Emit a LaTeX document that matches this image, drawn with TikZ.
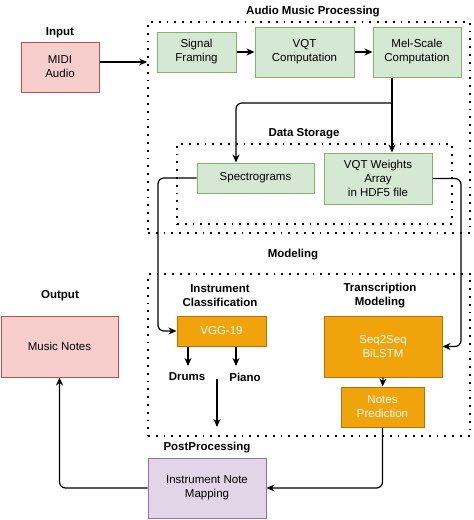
\documentclass[tikz,border=0pt]{standalone}
\usepackage{fontspec}
\setmainfont{Liberation Sans}
\usetikzlibrary{arrows.meta,calc}
\definecolor{gfill}{HTML}{D5E8D4}\definecolor{gline}{HTML}{82B366}
\definecolor{pfill}{HTML}{F8CECC}\definecolor{pline}{HTML}{B85450}
\definecolor{ofill}{HTML}{F0A30A}\definecolor{oline}{HTML}{BD7000}
\definecolor{vfill}{HTML}{E1D5E7}\definecolor{vline}{HTML}{9673A6}
\begin{document}
\begin{tikzpicture}[x=1pt,y=-1pt,
  every node/.style={font=\fontsize{11.5}{14}\selectfont, align=center, inner sep=0pt},
  box/.style={draw, line width=1pt, minimum width=#1},
  gbox/.style={box=0, fill=gfill, draw=gline},
  pbox/.style={box=0, fill=pfill, draw=pline},
  obox/.style={box=0, fill=ofill, draw=oline, text=white},
  vbox/.style={box=0, fill=vfill, draw=vline},
  group/.style={draw, line width=1.8pt, dash pattern=on 1.8pt off 6pt},
  lbl/.style={font=\fontsize{11.5}{14}\selectfont\bfseries},
  arr/.style={-{Stealth[length=8pt,width=7pt,inset=2.5pt]}, line width=1.2pt},
  rc/.style={rounded corners=6pt}]
\useasboundingbox (0,0) rectangle (474,520);
% groups
\node[group, minimum width=322pt, minimum height=211pt] (amp) at (309,127.5) {};
\node[group, minimum width=275pt, minimum height=80pt] (ds) at (314.5,184) {};
\node[group, minimum width=322pt, minimum height=162pt] (mod) at (309,355) {};
% labels
\node[lbl] (lamp) at (313,12) {Audio Music Processing};
\node[lbl] (lin) at (60,33) {Input};
\node[lbl] (lds) at (304,134) {Data Storage};
\node[lbl] (lmod) at (293,255) {Modeling};
\node[lbl] (lout) at (60,296) {Output};
\node[lbl] (lic) at (220,296) {Instrument\\Classification};
\node[lbl] (ltm) at (380,296) {Transcription\\Modeling};
\node[lbl] (drums) at (187,377) {Drums};
\node[lbl] (piano) at (245,377) {Piano};
\node[lbl] (lpp) at (207,448) {PostProcessing};
% boxes
\node[pbox, minimum width=78pt, minimum height=50pt] (midi) at (60,67) {MIDI\\Audio};
\node[gbox, minimum width=79pt, minimum height=40pt] (sf) at (196.5,52) {Signal\\Framing};
\node[gbox, minimum width=99pt, minimum height=50pt] (vqt) at (304.5,52) {VQT\\Computation};
\node[gbox, minimum width=88pt, minimum height=50pt] (mel) at (417,52) {Mel-Scale\\Computation};
\node[gbox, minimum width=117pt, minimum height=30pt] (spec) at (255.5,178) {Spectrograms};
\node[gbox, minimum width=108pt, minimum height=51pt] (vqtw) at (378,178.5) {VQT Weights\\Array\\in HDF5 file};
\node[obox, minimum width=89pt, minimum height=30pt] (vgg) at (221.5,331) {VGG-19};
\node[obox, minimum width=118pt, minimum height=61pt] (seq) at (383,346.5) {Seq2Seq\\BiLSTM};
\node[obox, minimum width=83pt, minimum height=40pt] (np) at (382.5,407) {Notes\\Prediction};
\node[vbox, minimum width=118pt, minimum height=60pt] (inm) at (207,488) {Instrument Note\\Mapping};
\node[pbox, minimum width=117pt, minimum height=61pt] (music) at (59.5,346.5) {Music Notes};
% coordinates
\coordinate (br) at (392,103);
\coordinate (d1) at (188,366);
\coordinate (p1) at (236,366);
\coordinate (c1) at (217,379);
\coordinate (c2) at (217,427);
% connectors
\draw[arr] (midi.east |- 0,62) -- (amp.west |- 0,62);
\draw[arr] (sf.east) -- (vqt.west);
\draw[arr] (vqt.east) -- (mel.west);
\draw[arr] (mel.south -| br) -- (vqtw.north -| br);
\draw[arr,rc] (br) -| (spec.north -| 236,0);
\draw[arr,rc] (spec.west) -- (spec.west -| 158,0) -- (vgg.west -| 158,0) -- (vgg.west);
\draw[arr,rc] (vqtw.east) -- (vqtw.east -| 461,0) -- (seq.east -| 461,0) -- (seq.east);
\draw[arr] (vgg.south -| d1) -- (d1);
\draw[arr] (vgg.south -| p1) -- (p1);
\draw[arr] (c1) -- (c2);
\draw[arr] (seq.south) -- (np.north);
\draw[arr,rc] (np.south) |- (inm.east);
\draw[arr,rc] (inm.west) -| (music.south);
\end{tikzpicture}
\end{document}
